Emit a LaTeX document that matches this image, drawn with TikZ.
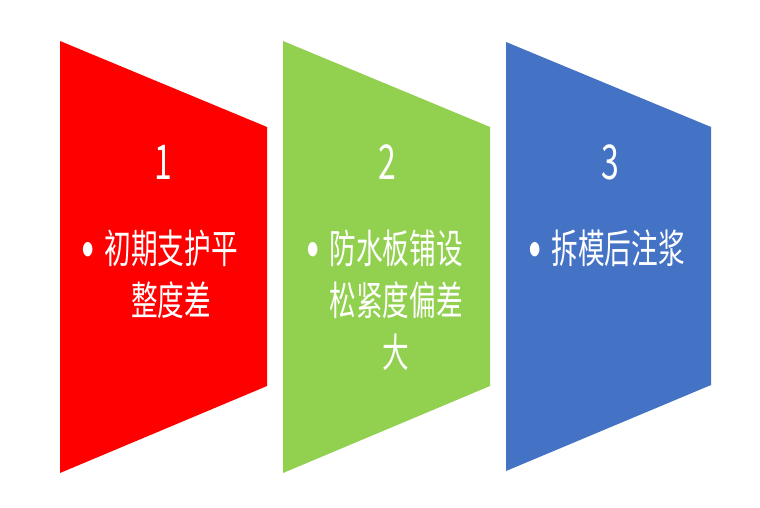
\documentclass[tikz,border=0pt]{standalone}
\usepackage{fontspec}
\setmainfont{Noto Sans CJK SC}

\tikzset{every picture/.style={line width=0.75pt}}
\tikzset{
  stepnum/.style={color=white, inner sep=0pt, yscale=1.5, font=\fontsize{24}{28}\selectfont},
  steptext/.style={color=white, inner sep=0pt, anchor=north, align=center, yscale=1.5, font=\fontsize{20}{26}\selectfont}
}
\newcommand{\stepbullet}{\llap{\raisebox{-6pt}{\fontsize{34}{26}\selectfont •}\hspace{-5pt}}}

\begin{document}
\begin{tikzpicture}[x=0.75pt,y=0.75pt,yscale=-1,xscale=1]
  \useasboundingbox (0,0) rectangle (760,507);

  %Shape: Trapezoid [red]
  \fill [color={rgb, 255:red, 255; green, 0; blue, 0 }]  (60,41) -- (267,127) -- (267,386) -- (60,473) -- cycle ;
  %Shape: Trapezoid [green]
  \fill [color={rgb, 255:red, 146; green, 208; blue, 80 }]  (283,41) -- (490,127) -- (490,386) -- (283,473) -- cycle ;
  %Shape: Trapezoid [blue]
  \fill [color={rgb, 255:red, 68; green, 114; blue, 196 }]  (506,42) -- (711,127) -- (711,385) -- (506,471) -- cycle ;

  % Text Node
  \draw (163.5,162) node [stepnum] (num1) {1};
  % Text Node
  \draw (387,162) node [stepnum] (num2) {2};
  % Text Node
  \draw (610,162) node [stepnum] (num3) {3};

  % Text Node
  \draw (171,229) node [steptext] (cause1) {\stepbullet 初期支护平\\整度差};
  % Text Node
  \draw (396,229) node [steptext] (cause2) {\stepbullet 防水板铺设\\松紧度偏差\\大};
  % Text Node
  \draw (618,229) node [steptext] (cause3) {\stepbullet 拆模后注浆};

\end{tikzpicture}
\end{document}
